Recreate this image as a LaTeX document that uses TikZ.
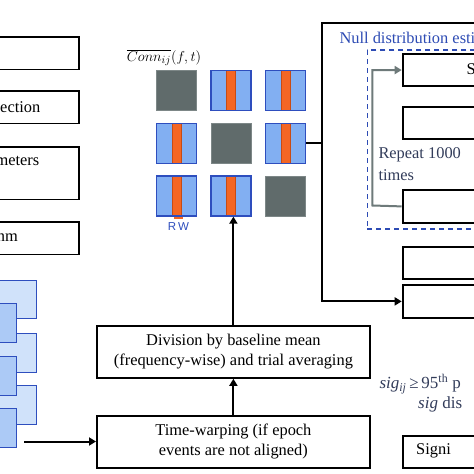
\documentclass[tikz,border=0pt]{standalone}
\usepackage{fontspec}
\setmainfont{Liberation Serif}
\newfontfamily\rwfont{Liberation Sans}
\usetikzlibrary{arrows.meta}
\definecolor{lightb}{RGB}{208,226,250}
\definecolor{darkb}{RGB}{172,202,246}
\definecolor{bedge}{RGB}{46,78,190}
\definecolor{cellb}{RGB}{130,175,242}
\definecolor{cellgray}{RGB}{96,107,107}
\definecolor{cellgrayedge}{RGB}{125,135,135}
\definecolor{orng}{RGB}{244,102,36}
\definecolor{orngdark}{RGB}{200,75,20}
\definecolor{nullblue}{RGB}{45,75,180}
\definecolor{loopgray}{RGB}{110,122,122}
\definecolor{slate}{RGB}{50,60,90}
\begin{document}
\begin{tikzpicture}[x=1pt,y=-1pt,
  bigfont/.style={font=\fontsize{16.4}{20}\selectfont},
  box/.style={draw=black, line width=1.8pt, fill=white, inner sep=0pt, align=center, bigfont},
  txt/.style={inner sep=0pt, bigfont},
  conn/.style={line width=2pt, draw=black, -{Triangle[length=7pt,width=8pt]}},
  plainline/.style={line width=2pt, draw=black},
  loopline/.style={line width=2pt, draw=loopgray},
  lightsq/.style={draw=bedge, fill=lightb, line width=1.3pt, inner sep=0pt},
  darksq/.style={draw=bedge, fill=darkb, line width=1.3pt, inner sep=0pt},
  graycell/.style={draw=cellgrayedge, fill=cellgray, line width=1pt, minimum size=40pt, inner sep=0pt},
  stripecell/.style={draw=bedge, fill=cellb, line width=1.3pt, minimum size=40pt, inner sep=0pt,
    path picture={\fill[orng] ([xshift=-4.6pt]path picture bounding box.south) rectangle ([xshift=4.6pt]path picture bounding box.north);
      \draw[orngdark, line width=0.6pt] ([xshift=-4.6pt]path picture bounding box.south) -- ([xshift=-4.6pt]path picture bounding box.north)
        ([xshift=4.6pt]path picture bounding box.south) -- ([xshift=4.6pt]path picture bounding box.north);}},
  dashbox/.style={draw=nullblue, line width=1.5pt, dash pattern=on 5pt off 4pt, inner sep=0pt}
]
\useasboundingbox (0,0) rectangle (474,474);
\clip (0,0) rectangle (474,474);
\fill[white] (0,0) rectangle (474,474);

% left boxes (cut off at left edge)
\node[box, minimum width=100pt, minimum height=32.5pt, anchor=north west] (lb1) at (-22,36) {};
\node[box, minimum width=100pt, minimum height=32.5pt, anchor=north west] (lb2) at (-22,90) {};
\node[box, minimum width=100pt, minimum height=52.5pt, anchor=north west] (lb3) at (-22,146) {};
\node[box, minimum width=100pt, minimum height=32.5pt, anchor=north west] (lb4) at (-22,221) {};
\node[txt, anchor=east] (lt2) at (40.5,107) {ection};
\node[txt, anchor=east] (lt3) at (39.5,161) {meters};
\node[txt, anchor=east] (lt4) at (18,237.5) {nm};

% stacked blue squares
\node[lightsq, minimum width=48pt, minimum height=38pt, anchor=north west] (ls1) at (-12,280) {};
\node[lightsq, minimum width=48pt, minimum height=38.5pt, anchor=north west] (ls2) at (-12,333) {};
\node[lightsq, minimum width=48pt, minimum height=39pt, anchor=north west] (ls3) at (-12,385) {};
\node[darksq, minimum width=28pt, minimum height=39pt, anchor=north west] (ds1) at (-12,303) {};
\node[darksq, minimum width=28pt, minimum height=39pt, anchor=north west] (ds2) at (-12,355.5) {};
\node[darksq, minimum width=28pt, minimum height=39pt, anchor=north west] (ds3) at (-12,408) {};
\coordinate (stackout) at (24,441.5);

% lower boxes
\node[box, minimum width=273pt, minimum height=52pt, anchor=north west] (tw) at (96,415) {Time-warping (if epoch\\events are not aligned)};
\node[box, minimum width=273pt, minimum height=52pt, anchor=north west] (dv) at (96,325) {Division by baseline mean\\(frequency-wise) and trial averaging};

% grid of connectivity matrices
\node[graycell] (c11) at (176.7,90.3) {};
\node[stripecell] (c12) at (231,90.3) {};
\node[stripecell] (c13) at (285.7,90.3) {};
\node[stripecell] (c21) at (176.7,143.3) {};
\node[graycell] (c22) at (231,143.3) {};
\node[stripecell] (c23) at (285.7,143.3) {};
\node[stripecell] (c31) at (176.7,196) {};
\node[stripecell] (c32) at (231,196) {};
\node[graycell] (c33) at (285.7,196) {};
\node[fill=orng, inner sep=0pt, minimum width=9pt, minimum height=2.4pt] (rwbar) at (178.5,217.8) {};
\node[inner sep=0pt, text=bedge, font=\rwfont\fontsize{11.5}{12}\selectfont] (rw) at (178.5,227) {R\,W};
\node[inner sep=0pt, font=\fontsize{15}{17}\selectfont] (connlab) at (164,58) {$\overline{Conn_{ij}}(f,t)$};

% right side
\node[txt, text=nullblue, anchor=west] (nulllab) at (339.3,38) {Null distribution esti};
\node[dashbox, anchor=north west, minimum width=140pt, minimum height=179pt] (nullbox) at (366.7,49.3) {};
\node[box, minimum width=100pt, minimum height=31.7pt, anchor=north west] (rb1) at (401.7,53.3) {};
\node[box, minimum width=100pt, minimum height=31.7pt, anchor=north west] (rb2) at (401.7,106) {};
\node[box, minimum width=100pt, minimum height=32.4pt, anchor=north west] (rb3) at (401.7,189.3) {};
\node[box, minimum width=100pt, minimum height=31.7pt, anchor=north west] (rb4) at (401.7,246) {};
\node[box, minimum width=100pt, minimum height=32.4pt, anchor=north west] (rb5) at (401.7,284.3) {};
\node[box, minimum width=100pt, minimum height=31.7pt, anchor=north west] (rb6) at (401.7,435) {};
\node[txt, anchor=west] (s1) at (466.5,69) {S};
\node[txt, anchor=west] (signi) at (416,451) {Signi};
\node[txt, text=slate, anchor=west] (rep1) at (378.3,155) {Repeat 1000};
\node[txt, text=slate, anchor=west] (rep2) at (378.3,175) {times};
\node[txt, text=slate, anchor=west, font=\fontsize{17}{20}\selectfont] (sig1) at (379.3,384) {\textit{sig}\textsubscript{\textit{ij}}\,≥\,95\textsuperscript{th} p};
\node[txt, text=slate, anchor=west, font=\fontsize{17}{20}\selectfont] (sig2) at (418,404) {\textit{sig} dis};

% connectors
\draw[conn] (stackout) -- (tw.west |- stackout);
\draw[conn] (tw.north) -- (dv.south);
\draw[conn] (dv.north) -- (dv.north |- c32.south);
\coordinate (jn) at (321.7,143.3);
\coordinate (topend) at (490,23.3);
\draw[plainline] (c23.east) -- (jn);
\draw[plainline] (jn) |- (topend);
\draw[conn] (jn) |- (rb5.west);
\coordinate (lp) at (372.3,205.5);
\draw[loopline, -{Triangle[length=7pt,width=8pt]}] (rb3.west) -- (lp) |- (rb1.west);
\end{tikzpicture}
\end{document}
